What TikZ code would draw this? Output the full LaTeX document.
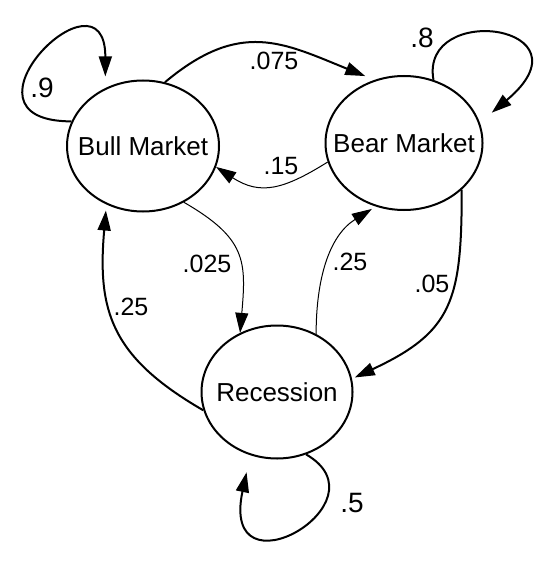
\documentclass[tikz,border=0pt]{standalone}
\usepackage{fontspec}
\setmainfont{Liberation Sans}
\usetikzlibrary{shapes.geometric,arrows.meta}
\newcommand{\statename}[1]{\makebox[0pt]{#1}}

\begin{document}
\begin{tikzpicture}[x=0.5pt,y=0.5pt,state/.style n args={2}{ellipse,draw,line width=1pt,inner sep=0pt,minimum width=#1,minimum height=#2,font=\fontsize{13}{15}\selectfont},prob/.style={font=\fontsize{12.5}{15}\selectfont,inner sep=0pt},selfprob/.style={prob,font=\fontsize{14}{16}\selectfont},heavy/.style={line width=1pt,-{Triangle[length=10pt,width=6.5pt]}},light/.style={line width=0.5pt,-{Triangle[length=10pt,width=6.5pt]}}]
\useasboundingbox (0,0) rectangle (549,-561);
\node[state={76pt}{65.5pt}] (bull) at (143,-146) {\statename{Bull Market}};
\node[state={78.5pt}{67pt}] (bear) at (404,-143) {\statename{Bear Market}};
\node[state={75.5pt}{66.5pt}] (rec) at (277,-392) {\statename{Recession}};
\draw[heavy,shorten >=5pt] (bull.71) to[out=40,in=158,looseness=1.2] (bear.115);
\draw[light] (bear.194) to[out=212,in=-33,looseness=1.2] (bull.344);
\draw[light] (bull.-54) to[out=-30,in=85,looseness=1.3] (rec.122);
\draw[heavy,shorten >=3pt] (rec.194) to[out=150,in=-95,looseness=1.2] (bull.238);
\draw[light,shorten >=2.25pt] (rec.56) to[out=90,in=212] (bear.246);
\draw[heavy,shorten >=1.5pt] (bear.-39) to[out=-90,in=25,looseness=1.3] (rec.10);
\draw[heavy,shorten >=5.8pt] (bull.161) to[out=180,in=90,out distance=64pt,in distance=64pt] (bull.123);
\draw[heavy,shorten >=7.75pt] (bear.65) to[out=100,in=40,out distance=40pt,in distance=76pt] (bear.15);
\draw[heavy,shorten >=8.7pt] (rec.-65) to[out=-30,in=-102,out distance=48pt,in distance=74pt] (rec.247);
\foreach \name/\x/\y/\val in %
{p-bull-bear/274/61/.075,p-bear-bull/281/166/.15,p-bull-rec/207/264/.025,p-rec-bull/131/307/.25,p-rec-bear/350/262/.25,p-bear-rec/432/284/.05} {
   \node[prob] (\name) at (\x,-\y) {\val};
}
\foreach \name/\x/\y/\val in %
{p-bull/42/88/.9,p-bear/422/38/.8,p-rec/352/503/.5} {
   \node[selfprob] (\name) at (\x,-\y) {\val};
}
\end{tikzpicture}
\end{document}
